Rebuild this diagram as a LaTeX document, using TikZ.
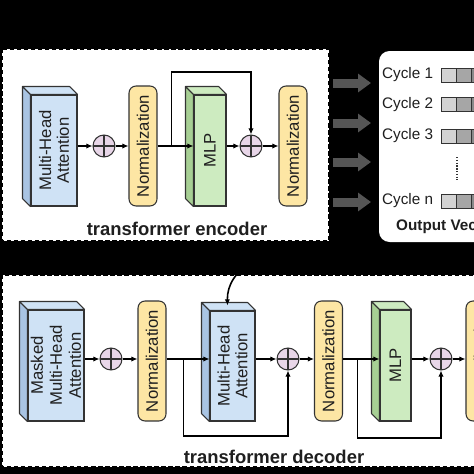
\documentclass[tikz,border=0pt]{standalone}
\usepackage{fontspec}
\setmainfont{Liberation Sans}
\usepackage{tikz}
\usepackage{xcolor}
\usetikzlibrary{positioning,calc,arrows.meta}

\definecolor{attnblue}{HTML}{CFE2F5}
\definecolor{attnside}{HTML}{A9C4E3}
\definecolor{mlpgreen}{HTML}{CDEBC0}
\definecolor{mlpside}{HTML}{A7CF94}
\definecolor{normyellow}{HTML}{FDE6A4}
\definecolor{addpink}{HTML}{E8D6E8}
\definecolor{edgegray}{HTML}{333333}
\definecolor{arrowgray}{HTML}{555555}
\definecolor{cellA}{HTML}{D3D3D3}
\definecolor{cellB}{HTML}{A6A6A6}
\definecolor{cellC}{HTML}{8A8A8A}

% top and left faces of a box drawn with rotate=90
\newcommand{\cubesides}[3]{%
    \filldraw[fill=#2, draw=edgegray, line width=0.6pt, line join=round] (#1.north east) -- ++(-8,-8) -- ($(#1.south east)+(-8,-8)$) -- (#1.south east) -- cycle;
    \filldraw[fill=#3, draw=edgegray, line width=0.6pt, line join=round] (#1.north east) -- ++(-8,-8) -- ($(#1.north west)+(-8,-8)$) -- (#1.north west) -- cycle;
}

\tikzset{
    cube/.style={draw=edgegray, line width=0.6pt, rotate=90, inner sep=1pt, align=center, minimum width=2.22cm},
    normbox/.style={draw=edgegray, line width=0.6pt, fill=normyellow, rounded corners=4pt, rotate=90, minimum width=2.4cm, minimum height=0.56cm, inner sep=0pt},
    addop/.style={circle, draw=edgegray, line width=0.6pt, fill=addpink, minimum size=0.44cm, inner sep=0pt,
        path picture={\draw[edgegray, line width=0.6pt] (path picture bounding box.north) -- (path picture bounding box.south) (path picture bounding box.west) -- (path picture bounding box.east);}},
    arr/.style={-{Latex[length=3.5pt,width=3pt]}, line width=0.6pt, black},
    dashframe/.style={fill=white, draw=black, line width=1.2pt, dash pattern=on 2.5pt off 1.5pt},
    blocktitle/.style={font=\fontsize{10.5}{12}\selectfont\bfseries},
    cell/.style={draw=edgegray, line width=0.5pt, minimum width=0.3cm, minimum height=0.28cm, inner sep=0pt, outer sep=0pt},
    bigarrow/.style={arrowgray, line width=0.18cm, -{Triangle[length=0.26cm,width=0.36cm]}},
}

\begin{document}
\begin{tikzpicture}[x=0.02cm, y=-0.02cm, font=\fontsize{9.5}{10}\selectfont, text=black!88]
    \useasboundingbox (0,0) rectangle (474,474);
    \clip (0,0) rectangle (474,474);
    \fill[black] (0,0) rectangle (474,474);

    % encoder
    \draw[dashframe] (2,49) rectangle (329,241);
    \node[cube, fill=attnblue, minimum height=0.92cm] (mha) at (54,150.5) {Multi-Head\\Attention};
    \cubesides{mha}{attnblue}{attnside}
    \node[addop] (p1) at (104,146) {};
    \node[normbox] (nrm1) at (143,146) {Normalization};
    \node[cube, fill=mlpgreen, minimum height=0.64cm] (mlp) at (210,150.5) {MLP};
    \cubesides{mlp}{mlpgreen}{mlpside}
    \node[addop] (p2) at (251,146) {};
    \node[normbox] (nrm2) at (293,146) {Normalization};
    \node[blocktitle] (enctitle) at (177,229) {transformer encoder};

    \draw[arr] (mha.south |- p1) -- (p1);
    \draw[arr] (p1) -- (nrm1);
    \draw[arr] (nrm1.south) -- (mlp.north |- nrm1.south);
    \draw[arr] (mlp.south |- p2) -- (p2);
    \draw[arr] (p2) -- (nrm2);
    \coordinate (sk1) at ($(nrm1.south)!0.4!(mlp.north |- nrm1.south)$);
    \draw[arr] (sk1) -- ++(0,-74) -| (p2.north);

    % arrows to the output vectors
    \foreach \y in {83,123,162,202}
        \draw[bigarrow] (333,\y) -- (371,\y);

    % output vectors
    \fill[white, rounded corners=6pt] (379,51) rectangle (520,242);
    \foreach \lab/\y in {1/75,2/104.5,3/136,n/201} {
        \node[anchor=east, inner sep=2pt, font=\fontsize{8.7}{10}\selectfont] (cyc\lab) at (437,\y) {Cycle \lab};
        \node[cell, fill=cellA, right=2.3pt of cyc\lab] (va\lab) {};
        \node[cell, fill=cellB, right=0pt of va\lab] (vb\lab) {};
        \node[cell, fill=cellC, right=0pt of vb\lab] (vc\lab) {};
    }
    \draw[edgegray, line width=1.3pt, dash pattern=on 0.8pt off 0.8pt] (457,157) -- (457,180);
    \node[anchor=west, font=\fontsize{8.7}{10}\selectfont\bfseries] (outlbl) at (390,227) {Output Vector};

    % decoder
    \draw[dashframe] (2,275) rectangle (520,467);
    \node[cube, fill=attnblue, minimum height=1.12cm, font=\fontsize{9.5}{10.8}\selectfont] (mmha) at (56,365.5) {Masked\\Multi-Head\\Attention};
    \cubesides{mmha}{attnblue}{attnside}
    \node[addop] (pd1) at (111,359) {};
    \node[normbox] (nd1) at (152,361) {Normalization};
    \node[cube, fill=attnblue, minimum height=0.9cm, minimum width=2.2cm] (mha2) at (232.5,366) {Multi-Head\\Attention};
    \cubesides{mha2}{attnblue}{attnside}
    \node[addop] (pd2) at (288,359) {};
    \node[normbox] (nd2) at (328.5,361) {Normalization};
    \node[cube, fill=mlpgreen, minimum height=0.62cm] (mlp2) at (395.5,365.5) {MLP};
    \cubesides{mlp2}{mlpgreen}{mlpside}
    \node[addop] (pd3) at (441,359) {};
    \node[normbox] (nd3) at (480,361) {Normalization};
    \node[blocktitle] (dectitle) at (274,457) {transformer decoder};

    \draw[arr] (mmha.south |- pd1) -- (pd1);
    \draw[arr] (pd1) -- (nd1.north |- pd1);
    \draw[arr] (nd1.south |- pd1) -- (mha2.north |- pd1);
    \draw[arr] (mha2.south |- pd2) -- (pd2);
    \draw[arr] (pd2) -- (nd2.north |- pd2);
    \draw[arr] (nd2.south |- pd2) -- (mlp2.north |- pd2);
    \draw[arr] (mlp2.south |- pd3) -- (pd3);
    \draw[arr] (pd3) -- (nd3.north |- pd3);
    \coordinate (sk2) at ($(nd1.south |- pd1)!0.39!(mha2.north |- pd1)$);
    \draw[arr] (sk2) -- ++(0,77) -| (pd2.south);
    \coordinate (sk3) at ($(nd2.south |- pd2)!0.39!(mlp2.north |- pd2)$);
    \draw[arr] (sk3) -- ++(0,79) -| (pd3.south);

    \coordinate (memin) at (254,262);
    \draw[arr, line width=0.9pt] (memin) .. controls (236,270) and (227,285) .. ($(mha2.east)+(-5,-5)$);
\end{tikzpicture}
\end{document}
